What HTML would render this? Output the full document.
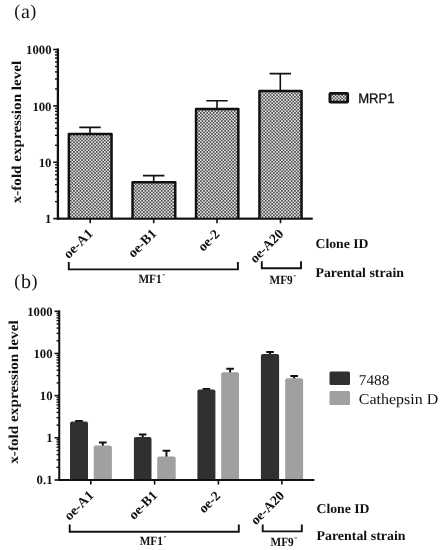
<!DOCTYPE html>
<html><head><meta charset="utf-8"><title>Figure</title>
<style>html,body{margin:0;padding:0;background:#fff}svg{display:block}text{fill:#111;text-rendering:geometricPrecision}</style>
</head><body>
<svg width="443" height="550" viewBox="0 0 443 550">
<defs>
<pattern id="chk" width="3.25" height="3.25" patternUnits="userSpaceOnUse">
<rect width="3.25" height="3.25" fill="#e4e4e4"/>
<rect x="0" y="0" width="1.625" height="1.625" fill="#4c4c4c"/>
<rect x="1.625" y="1.625" width="1.625" height="1.625" fill="#4c4c4c"/>
</pattern>
</defs>
<rect width="443" height="550" fill="#fff"/>
<text x="14.3" y="17.5" text-anchor="start" font-family='"Liberation Serif", serif' font-weight="normal" font-size="20"><tspan font-size="18" dy="-0.7">(</tspan><tspan dy="0.7" dx="0.6">a</tspan><tspan font-size="18" dy="-0.7" dx="0.5">)</tspan></text>
<line x1="57.9" y1="48.5" x2="57.9" y2="219.60999999999999" stroke="#111" stroke-width="2.3"/>
<line x1="53.199999999999996" y1="49.50" x2="57.9" y2="49.50" stroke="#111" stroke-width="1.6"/>
<text x="51.5" y="54.20" text-anchor="end" font-family='"Liberation Serif", serif' font-weight="bold" font-size="12.7" textLength="25.4" lengthAdjust="spacingAndGlyphs">1000</text>
<line x1="55.0" y1="88.90" x2="57.9" y2="88.90" stroke="#111" stroke-width="1.4"/>
<line x1="55.0" y1="78.97" x2="57.9" y2="78.97" stroke="#111" stroke-width="1.4"/>
<line x1="55.0" y1="71.93" x2="57.9" y2="71.93" stroke="#111" stroke-width="1.4"/>
<line x1="55.0" y1="66.47" x2="57.9" y2="66.47" stroke="#111" stroke-width="1.4"/>
<line x1="55.0" y1="62.01" x2="57.9" y2="62.01" stroke="#111" stroke-width="1.4"/>
<line x1="55.0" y1="58.23" x2="57.9" y2="58.23" stroke="#111" stroke-width="1.4"/>
<line x1="55.0" y1="54.96" x2="57.9" y2="54.96" stroke="#111" stroke-width="1.4"/>
<line x1="55.0" y1="52.08" x2="57.9" y2="52.08" stroke="#111" stroke-width="1.4"/>
<line x1="53.199999999999996" y1="105.87" x2="57.9" y2="105.87" stroke="#111" stroke-width="1.6"/>
<text x="51.5" y="110.57" text-anchor="end" font-family='"Liberation Serif", serif' font-weight="bold" font-size="12.7" textLength="19.1" lengthAdjust="spacingAndGlyphs">100</text>
<line x1="55.0" y1="145.27" x2="57.9" y2="145.27" stroke="#111" stroke-width="1.4"/>
<line x1="55.0" y1="135.34" x2="57.9" y2="135.34" stroke="#111" stroke-width="1.4"/>
<line x1="55.0" y1="128.30" x2="57.9" y2="128.30" stroke="#111" stroke-width="1.4"/>
<line x1="55.0" y1="122.84" x2="57.9" y2="122.84" stroke="#111" stroke-width="1.4"/>
<line x1="55.0" y1="118.38" x2="57.9" y2="118.38" stroke="#111" stroke-width="1.4"/>
<line x1="55.0" y1="114.60" x2="57.9" y2="114.60" stroke="#111" stroke-width="1.4"/>
<line x1="55.0" y1="111.33" x2="57.9" y2="111.33" stroke="#111" stroke-width="1.4"/>
<line x1="55.0" y1="108.45" x2="57.9" y2="108.45" stroke="#111" stroke-width="1.4"/>
<line x1="53.199999999999996" y1="162.24" x2="57.9" y2="162.24" stroke="#111" stroke-width="1.6"/>
<text x="51.5" y="166.94" text-anchor="end" font-family='"Liberation Serif", serif' font-weight="bold" font-size="12.7" textLength="12.8" lengthAdjust="spacingAndGlyphs">10</text>
<line x1="55.0" y1="201.64" x2="57.9" y2="201.64" stroke="#111" stroke-width="1.4"/>
<line x1="55.0" y1="191.71" x2="57.9" y2="191.71" stroke="#111" stroke-width="1.4"/>
<line x1="55.0" y1="184.67" x2="57.9" y2="184.67" stroke="#111" stroke-width="1.4"/>
<line x1="55.0" y1="179.21" x2="57.9" y2="179.21" stroke="#111" stroke-width="1.4"/>
<line x1="55.0" y1="174.75" x2="57.9" y2="174.75" stroke="#111" stroke-width="1.4"/>
<line x1="55.0" y1="170.97" x2="57.9" y2="170.97" stroke="#111" stroke-width="1.4"/>
<line x1="55.0" y1="167.70" x2="57.9" y2="167.70" stroke="#111" stroke-width="1.4"/>
<line x1="55.0" y1="164.82" x2="57.9" y2="164.82" stroke="#111" stroke-width="1.4"/>
<line x1="53.199999999999996" y1="218.61" x2="57.9" y2="218.61" stroke="#111" stroke-width="1.6"/>
<text x="51.5" y="223.31" text-anchor="end" font-family='"Liberation Serif", serif' font-weight="bold" font-size="12.7" textLength="6.4" lengthAdjust="spacingAndGlyphs">1</text>
<line x1="57" y1="218.6" x2="312.5" y2="218.6" stroke="#111" stroke-width="1.8"/>
<line x1="90.2" y1="218.6" x2="90.2" y2="223.2" stroke="#111" stroke-width="1.6"/>
<line x1="153.7" y1="218.6" x2="153.7" y2="223.2" stroke="#111" stroke-width="1.6"/>
<line x1="217" y1="218.6" x2="217" y2="223.2" stroke="#111" stroke-width="1.6"/>
<line x1="280.5" y1="218.6" x2="280.5" y2="223.2" stroke="#111" stroke-width="1.6"/>
<text transform="translate(20.6 203.3) rotate(-90)" font-family='"Liberation Serif", serif' font-weight="bold" font-size="13.6" textLength="142.5" lengthAdjust="spacingAndGlyphs">x-fold expression level</text>
<path d="M79.29999999999998 127.39999999999999H100.69999999999999M89.99999999999999 127.39999999999999V133.8" stroke="#111" stroke-width="1.6" fill="none"/>
<rect x="68.85" y="134.05" width="42.70" height="84.55" fill="url(#chk)"/>
<path d="M68.85 218.6V134.05H111.55V218.6" fill="none" stroke="#111" stroke-width="2.5" stroke-linejoin="round"/>
<path d="M143.00000000000003 175.60000000000002H164.4M153.70000000000002 175.60000000000002V182" stroke="#111" stroke-width="1.6" fill="none"/>
<rect x="132.55" y="182.25" width="42.70" height="36.35" fill="url(#chk)"/>
<path d="M132.55 218.6V182.25H175.25V218.6" fill="none" stroke="#111" stroke-width="2.5" stroke-linejoin="round"/>
<path d="M206.3 100.8H227.7M217.0 100.8V108.7" stroke="#111" stroke-width="1.6" fill="none"/>
<rect x="196.05" y="108.95" width="42.30" height="109.65" fill="url(#chk)"/>
<path d="M196.05 218.6V108.95H238.35V218.6" fill="none" stroke="#111" stroke-width="2.5" stroke-linejoin="round"/>
<path d="M269.6 73.6H291.0M280.3 73.6V90.7" stroke="#111" stroke-width="1.6" fill="none"/>
<rect x="259.45" y="90.95" width="42.10" height="127.65" fill="url(#chk)"/>
<path d="M259.45 218.6V90.95H301.55V218.6" fill="none" stroke="#111" stroke-width="2.5" stroke-linejoin="round"/>
<line x1="57" y1="218.6" x2="312.7" y2="218.6" stroke="#111" stroke-width="1.8"/>
<text transform="translate(93.7 234.3) rotate(-45)" text-anchor="end" font-family='"Liberation Serif", serif' font-weight="bold" font-size="13.5" textLength="35.3" lengthAdjust="spacingAndGlyphs">oe-A1</text>
<text transform="translate(157.3 234.3) rotate(-45)" text-anchor="end" font-family='"Liberation Serif", serif' font-weight="bold" font-size="13.5" textLength="34" lengthAdjust="spacingAndGlyphs">oe-B1</text>
<text transform="translate(220.4 234.8) rotate(-45)" text-anchor="end" font-family='"Liberation Serif", serif' font-weight="bold" font-size="13.5" textLength="24.3" lengthAdjust="spacingAndGlyphs">oe-2</text>
<text transform="translate(284.3 234.6) rotate(-45)" text-anchor="end" font-family='"Liberation Serif", serif' font-weight="bold" font-size="13.5" textLength="41.2" lengthAdjust="spacingAndGlyphs">oe-A20</text>
<path d="M68.8 261.9V269.4H237.9V261.9" stroke="#111" stroke-width="1.9" fill="none"/>
<path d="M261.8 261.3V268.3H301.0V261.3" stroke="#111" stroke-width="1.9" fill="none"/>
<text x="138.4" y="283.2" text-anchor="start" font-family='"Liberation Serif", serif' font-weight="bold" font-size="12.5" textLength="23.2" lengthAdjust="spacingAndGlyphs">MF1</text>
<text x="162.2" y="277.3" text-anchor="start" font-family='"Liberation Serif", serif' font-weight="bold" font-size="9">-</text>
<text x="269.5" y="283.5" text-anchor="start" font-family='"Liberation Serif", serif' font-weight="bold" font-size="12.5" textLength="23.2" lengthAdjust="spacingAndGlyphs">MF9</text>
<text x="293.2" y="277.5" text-anchor="start" font-family='"Liberation Serif", serif' font-weight="bold" font-size="9">-</text>
<text x="315.5" y="248" text-anchor="start" font-family='"Liberation Serif", serif' font-weight="bold" font-size="13.5" textLength="53" lengthAdjust="spacingAndGlyphs">Clone ID</text>
<text x="315.5" y="276.8" text-anchor="start" font-family='"Liberation Serif", serif' font-weight="bold" font-size="13.5" textLength="88.5" lengthAdjust="spacingAndGlyphs">Parental strain</text>
<rect x="329.9" y="93.4" width="17.8" height="8.7" rx="0.6" fill="url(#chk)" stroke="#111" stroke-width="2.8" stroke-linejoin="round"/>
<text x="358.2" y="102.7" font-family='"Liberation Sans", sans-serif' font-size="13.7" textLength="36.4" lengthAdjust="spacingAndGlyphs" stroke="#111" stroke-width="0.3">MRP1</text>
<text x="14.3" y="287.6" text-anchor="start" font-family='"Liberation Serif", serif' font-weight="normal" font-size="20"><tspan font-size="18" dy="-0.7">(</tspan><tspan dy="0.7" dx="0.6">b</tspan><tspan font-size="18" dy="-0.7" dx="0.5">)</tspan></text>
<line x1="59.25" y1="310.3" x2="59.25" y2="480.98" stroke="#111" stroke-width="2.0"/>
<line x1="54.55" y1="311.30" x2="59.25" y2="311.30" stroke="#111" stroke-width="1.6"/>
<text x="52.6" y="315.50" text-anchor="end" font-family='"Liberation Serif", serif' font-weight="bold" font-size="12.7" textLength="25.4" lengthAdjust="spacingAndGlyphs">1000</text>
<line x1="56.55" y1="340.78" x2="59.25" y2="340.78" stroke="#111" stroke-width="1.4"/>
<line x1="56.55" y1="333.35" x2="59.25" y2="333.35" stroke="#111" stroke-width="1.4"/>
<line x1="56.55" y1="328.08" x2="59.25" y2="328.08" stroke="#111" stroke-width="1.4"/>
<line x1="56.55" y1="323.99" x2="59.25" y2="323.99" stroke="#111" stroke-width="1.4"/>
<line x1="56.55" y1="320.66" x2="59.25" y2="320.66" stroke="#111" stroke-width="1.4"/>
<line x1="56.55" y1="317.83" x2="59.25" y2="317.83" stroke="#111" stroke-width="1.4"/>
<line x1="56.55" y1="315.39" x2="59.25" y2="315.39" stroke="#111" stroke-width="1.4"/>
<line x1="56.55" y1="313.23" x2="59.25" y2="313.23" stroke="#111" stroke-width="1.4"/>
<line x1="54.55" y1="353.47" x2="59.25" y2="353.47" stroke="#111" stroke-width="1.6"/>
<text x="52.6" y="357.67" text-anchor="end" font-family='"Liberation Serif", serif' font-weight="bold" font-size="12.7" textLength="19.1" lengthAdjust="spacingAndGlyphs">100</text>
<line x1="56.55" y1="382.95" x2="59.25" y2="382.95" stroke="#111" stroke-width="1.4"/>
<line x1="56.55" y1="375.52" x2="59.25" y2="375.52" stroke="#111" stroke-width="1.4"/>
<line x1="56.55" y1="370.25" x2="59.25" y2="370.25" stroke="#111" stroke-width="1.4"/>
<line x1="56.55" y1="366.16" x2="59.25" y2="366.16" stroke="#111" stroke-width="1.4"/>
<line x1="56.55" y1="362.83" x2="59.25" y2="362.83" stroke="#111" stroke-width="1.4"/>
<line x1="56.55" y1="360.00" x2="59.25" y2="360.00" stroke="#111" stroke-width="1.4"/>
<line x1="56.55" y1="357.56" x2="59.25" y2="357.56" stroke="#111" stroke-width="1.4"/>
<line x1="56.55" y1="355.40" x2="59.25" y2="355.40" stroke="#111" stroke-width="1.4"/>
<line x1="54.55" y1="395.64" x2="59.25" y2="395.64" stroke="#111" stroke-width="1.6"/>
<text x="52.6" y="399.84" text-anchor="end" font-family='"Liberation Serif", serif' font-weight="bold" font-size="12.7" textLength="12.8" lengthAdjust="spacingAndGlyphs">10</text>
<line x1="56.55" y1="425.12" x2="59.25" y2="425.12" stroke="#111" stroke-width="1.4"/>
<line x1="56.55" y1="417.69" x2="59.25" y2="417.69" stroke="#111" stroke-width="1.4"/>
<line x1="56.55" y1="412.42" x2="59.25" y2="412.42" stroke="#111" stroke-width="1.4"/>
<line x1="56.55" y1="408.33" x2="59.25" y2="408.33" stroke="#111" stroke-width="1.4"/>
<line x1="56.55" y1="405.00" x2="59.25" y2="405.00" stroke="#111" stroke-width="1.4"/>
<line x1="56.55" y1="402.17" x2="59.25" y2="402.17" stroke="#111" stroke-width="1.4"/>
<line x1="56.55" y1="399.73" x2="59.25" y2="399.73" stroke="#111" stroke-width="1.4"/>
<line x1="56.55" y1="397.57" x2="59.25" y2="397.57" stroke="#111" stroke-width="1.4"/>
<line x1="54.55" y1="437.81" x2="59.25" y2="437.81" stroke="#111" stroke-width="1.6"/>
<text x="52.6" y="442.01" text-anchor="end" font-family='"Liberation Serif", serif' font-weight="bold" font-size="12.7" textLength="6.4" lengthAdjust="spacingAndGlyphs">1</text>
<line x1="56.55" y1="467.29" x2="59.25" y2="467.29" stroke="#111" stroke-width="1.4"/>
<line x1="56.55" y1="459.86" x2="59.25" y2="459.86" stroke="#111" stroke-width="1.4"/>
<line x1="56.55" y1="454.59" x2="59.25" y2="454.59" stroke="#111" stroke-width="1.4"/>
<line x1="56.55" y1="450.50" x2="59.25" y2="450.50" stroke="#111" stroke-width="1.4"/>
<line x1="56.55" y1="447.17" x2="59.25" y2="447.17" stroke="#111" stroke-width="1.4"/>
<line x1="56.55" y1="444.34" x2="59.25" y2="444.34" stroke="#111" stroke-width="1.4"/>
<line x1="56.55" y1="441.90" x2="59.25" y2="441.90" stroke="#111" stroke-width="1.4"/>
<line x1="56.55" y1="439.74" x2="59.25" y2="439.74" stroke="#111" stroke-width="1.4"/>
<line x1="54.55" y1="479.98" x2="59.25" y2="479.98" stroke="#111" stroke-width="1.6"/>
<text x="52.6" y="484.18" text-anchor="end" font-family='"Liberation Serif", serif' font-weight="bold" font-size="12.7" textLength="16" lengthAdjust="spacingAndGlyphs">0.1</text>
<line x1="58" y1="480" x2="314.2" y2="480" stroke="#111" stroke-width="1.8"/>
<line x1="90.8" y1="480" x2="90.8" y2="484.6" stroke="#111" stroke-width="1.6"/>
<line x1="154.6" y1="480" x2="154.6" y2="484.6" stroke="#111" stroke-width="1.6"/>
<line x1="218.4" y1="480" x2="218.4" y2="484.6" stroke="#111" stroke-width="1.6"/>
<line x1="281.9" y1="480" x2="281.9" y2="484.6" stroke="#111" stroke-width="1.6"/>
<text transform="translate(18 463.8) rotate(-90)" font-family='"Liberation Serif", serif' font-weight="bold" font-size="13.6" textLength="143.5" lengthAdjust="spacingAndGlyphs">x-fold expression level</text>
<path d="M75.2 421.1H82.8M79.0 421.1V422.6" stroke="#111" stroke-width="2.0" fill="none"/>
<path d="M70 480V423.6Q70 421.6 72 421.6H86Q88 421.6 88 423.6V480Z" fill="#303030"/>
<path d="M99.00000000000001 442.6H106.60000000000001M102.80000000000001 442.6V446.6" stroke="#111" stroke-width="2.0" fill="none"/>
<path d="M93.7 480V447.6Q93.7 445.6 95.7 445.6H109.9Q111.9 445.6 111.9 447.6V480Z" fill="#a0a0a3"/>
<path d="M138.89999999999998 434.6H146.5M142.7 434.6V438.0" stroke="#111" stroke-width="2.0" fill="none"/>
<path d="M133.9 480V439.0Q133.9 437.0 135.9 437.0H149.5Q151.5 437.0 151.5 439.0V480Z" fill="#303030"/>
<path d="M162.64999999999998 450.7H170.25M166.45 450.7V457.4" stroke="#111" stroke-width="2.0" fill="none"/>
<path d="M157.2 480V458.4Q157.2 456.4 159.2 456.4H173.7Q175.7 456.4 175.7 458.4V480Z" fill="#a0a0a3"/>
<path d="M202.6 388.9H210.20000000000002M206.4 388.9V390.4" stroke="#111" stroke-width="2.0" fill="none"/>
<path d="M197.4 480V391.4Q197.4 389.4 199.4 389.4H213.4Q215.4 389.4 215.4 391.4V480Z" fill="#303030"/>
<path d="M226.29999999999998 368.7H233.9M230.1 368.7V373.3" stroke="#111" stroke-width="2.0" fill="none"/>
<path d="M221.2 480V374.3Q221.2 372.3 223.2 372.3H237.0Q239.0 372.3 239.0 374.3V480Z" fill="#a0a0a3"/>
<path d="M266.2 352.1H273.8M270.0 352.1V355.0" stroke="#111" stroke-width="2.0" fill="none"/>
<path d="M260.9 480V356.0Q260.9 354.0 262.9 354.0H277.1Q279.1 354.0 279.1 356.0V480Z" fill="#303030"/>
<path d="M290.34999999999997 376.0H297.95M294.15 376.0V379.3" stroke="#111" stroke-width="2.0" fill="none"/>
<path d="M285.2 480V380.3Q285.2 378.3 287.2 378.3H301.1Q303.1 378.3 303.1 380.3V480Z" fill="#a0a0a3"/>
<line x1="58" y1="480" x2="314.2" y2="480" stroke="#111" stroke-width="1.8"/>
<text transform="translate(94.5 496.1) rotate(-45)" text-anchor="end" font-family='"Liberation Serif", serif' font-weight="bold" font-size="13.5" textLength="35.3" lengthAdjust="spacingAndGlyphs">oe-A1</text>
<text transform="translate(158.10000000000002 496.1) rotate(-45)" text-anchor="end" font-family='"Liberation Serif", serif' font-weight="bold" font-size="13.5" textLength="34" lengthAdjust="spacingAndGlyphs">oe-B1</text>
<text transform="translate(221.20000000000002 496.6) rotate(-45)" text-anchor="end" font-family='"Liberation Serif", serif' font-weight="bold" font-size="13.5" textLength="24.3" lengthAdjust="spacingAndGlyphs">oe-2</text>
<text transform="translate(285.1 496.4) rotate(-45)" text-anchor="end" font-family='"Liberation Serif", serif' font-weight="bold" font-size="13.5" textLength="41.2" lengthAdjust="spacingAndGlyphs">oe-A20</text>
<path d="M69.7 524.6V531.7H238.8V524.6" stroke="#111" stroke-width="1.9" fill="none"/>
<path d="M262.7 524.4V531.4H301.8V524.4" stroke="#111" stroke-width="1.9" fill="none"/>
<text x="139.7" y="545.4" text-anchor="start" font-family='"Liberation Serif", serif' font-weight="bold" font-size="12.5" textLength="23.2" lengthAdjust="spacingAndGlyphs">MF1</text>
<text x="163.5" y="539.2" text-anchor="start" font-family='"Liberation Serif", serif' font-weight="bold" font-size="9">-</text>
<text x="270.5" y="545.6" text-anchor="start" font-family='"Liberation Serif", serif' font-weight="bold" font-size="12.5" textLength="23.2" lengthAdjust="spacingAndGlyphs">MF9</text>
<text x="294.2" y="539.6" text-anchor="start" font-family='"Liberation Serif", serif' font-weight="bold" font-size="9">-</text>
<text x="316.5" y="512.6" text-anchor="start" font-family='"Liberation Serif", serif' font-weight="bold" font-size="13.5" textLength="53" lengthAdjust="spacingAndGlyphs">Clone ID</text>
<text x="316.5" y="539.6" text-anchor="start" font-family='"Liberation Serif", serif' font-weight="bold" font-size="13.5" textLength="89" lengthAdjust="spacingAndGlyphs">Parental strain</text>
<rect x="329.5" y="371.4" width="20.5" height="13.5" rx="1.5" fill="#303030"/>
<rect x="329.5" y="391" width="20.5" height="14" rx="1.5" fill="#a0a0a3"/>
<text x="358.8" y="384.5" text-anchor="start" font-family='"Liberation Serif", serif' font-weight="normal" font-size="15" textLength="30.5" lengthAdjust="spacingAndGlyphs">7488</text>
<text x="358.8" y="404.3" text-anchor="start" font-family='"Liberation Serif", serif' font-weight="normal" font-size="15" textLength="79.4" lengthAdjust="spacingAndGlyphs">Cathepsin D</text>
</svg>
</body></html>
